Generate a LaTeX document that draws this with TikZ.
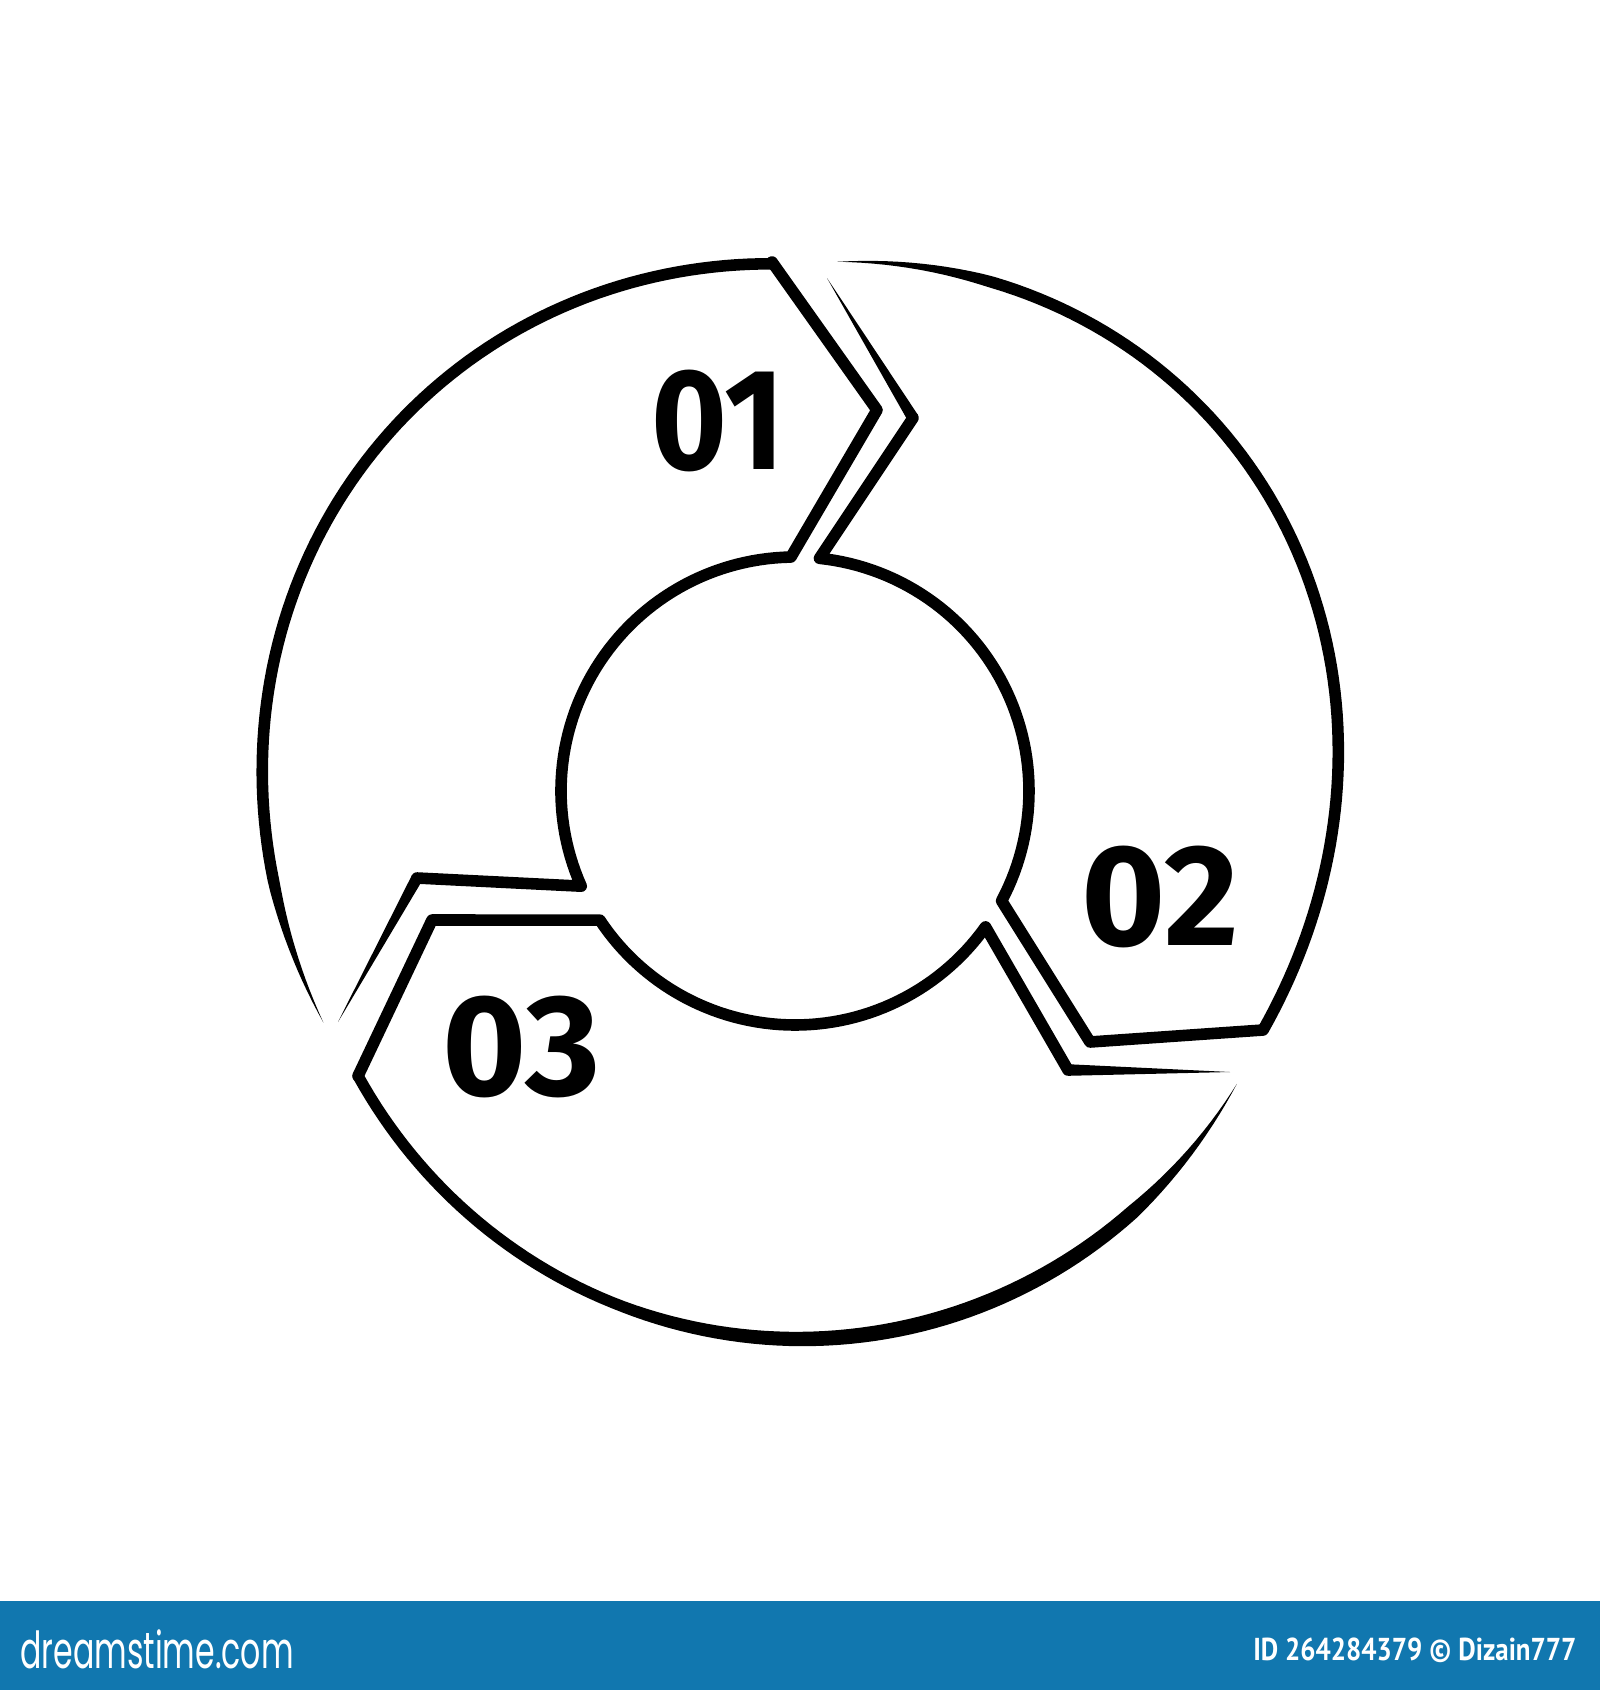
\documentclass[tikz,border=0pt]{standalone}
\usepackage{fontspec}
\setmainfont{Fira Sans}
\newfontfamily\logofont{Poppins}
\newfontfamily\creditfont{PT Sans}
\usetikzlibrary{calc}

\definecolor{barblue}{RGB}{17,119,175}

\tikzset{
  ink/.style={line width=3.3pt, line join=round, line cap=round},
  digit/.style={font=\fontsize{41}{41}\selectfont\bfseries},
}

% filled brush stroke round the outer centre (800,800): radius fn, half width fn, angles
\newcommand{\brush}[4]{%
  \fill plot[domain=#3:#4,samples=90] ({800+(#1(\x)+#2(\x))*cos(\x)},{800-(#1(\x)+#2(\x))*sin(\x)})
    -- plot[domain=#4:#3,samples=90] ({800+(#1(\x)-#2(\x))*cos(\x)},{800-(#1(\x)-#2(\x))*sin(\x)}) -- cycle;}
% straight stroke that runs out to a point
\newcommand{\taperline}[2]{%
  \fill ($#1!1.65pt!90:#2$) -- #2 -- ($#1!1.65pt!-90:#2$) -- cycle;}

\begin{document}
\begin{tikzpicture}[x=0.01cm, y=-0.01cm,
  declare function={
    rA(\t)=537+14*sin((\t-93)*2.069);
    hA(\t)=5.8*min(1,(205-\t)/16);
    rB(\t)=537+24*sin((\t-1)*2.045);
    hB(\t)=5.8*min(1,(86-\t)/16);
    rC(\t)=521+18*sin((\t-212)*1.565);
    hC(\t)=(5.6+2.2*sin(max(0,\t-250)*2.338))*min(1,(327-\t)/18);
  }]
\useasboundingbox (0,0) rectangle (1600,1690);
\fill[white] (0,0) rectangle (1600,1690);

% corners
\coordinate (a1) at (772,262);
\coordinate (p1) at (877,410);
\coordinate (t1) at (417,878);
\coordinate (t1e) at (338,1022);
\coordinate (n2) at (827,278);
\coordinate (p2) at (913,418);
\coordinate (c2) at (1090,1042);
\coordinate (e2) at (1263,1030);
\coordinate (a3) at (358,1076);
\coordinate (b3) at (432,920);
\coordinate (c3) at (1068,1070);
\coordinate (c3e) at (1230,1072);

% segment 01
\brush{rA}{hA}{93}{205}
\draw[ink] (a1) -- (p1) -- plot[domain=91:204,samples=60] ({795+234*cos(\x)},{791-234*sin(\x)}) -- (t1);
\taperline{(t1)}{(t1e)}

% segment 02
\brush{rB}{hB}{-26.4}{86}
\taperline{(p2)}{(n2)}
\draw[ink] (p2) -- plot[domain=84:-28,samples=60] ({795+234*cos(\x)},{791-234*sin(\x)}) -- (c2) -- (e2);

% segment 03
\brush{rC}{hC}{212}{327}
\draw[ink] (a3) -- (b3) -- plot[domain=213.5:324.5,samples=60] ({795+234*cos(\x)},{791-234*sin(\x)}) -- (c3);
\taperline{(c3)}{(c3e)}

% numbers
\node[digit, xscale=0.9] (n01) at (718,421) {01};
\node[digit] (n02) at (1160,897) {02};
\node[digit] (n03) at (521,1047) {03};

% bottom bar
\fill[barblue] (0,1601) rectangle (1600,1690);
\node[anchor=base west, text=white, inner sep=0pt, xscale=0.62,
  font=\logofont\fontsize{14.5}{14.5}\selectfont] (site) at (20,1668) {dreamstime.com};
\node[anchor=base east, text=white, inner sep=0pt, xscale=0.85,
  font=\creditfont\fontsize{9}{9}\selectfont\bfseries] (credit) at (1577,1660) {ID 264284379 © Dizain777};
\end{tikzpicture}
\end{document}
